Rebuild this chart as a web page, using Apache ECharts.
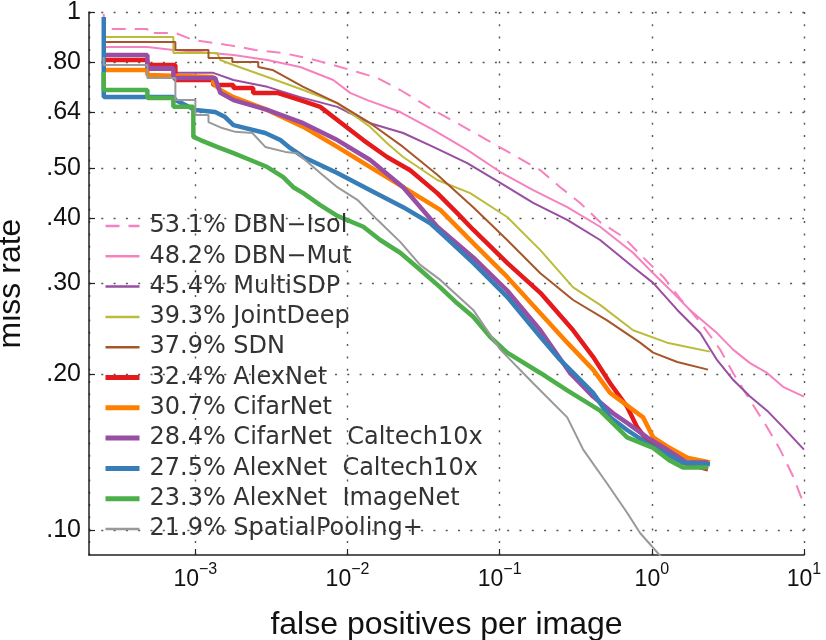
<!DOCTYPE html>
<html>
<head>
<meta charset="utf-8">
<script src="https://cdn.jsdelivr.net/npm/echarts@6/dist/echarts.min.js"></script>
<style>
html,body{margin:0;padding:0;background:#fff;}
#chart{width:826px;height:640px;}
</style>
</head>
<body>
<div id="chart"></div>
<script>
// ---- data (fppi, miss rate) ----
const seriesNames = [
  '53.1% DBN\u2212Isol', '48.2% DBN\u2212Mut', '45.4% MultiSDP', '39.3% JointDeep', '37.9% SDN',
  '32.4% AlexNet', '30.7% CifarNet', '28.4% CifarNet  Caltech10x', '27.5% AlexNet  Caltech10x',
  '23.3% AlexNet  ImageNet', '21.9% SpatialPooling+'
];

const dbnIsol = [[0.00025,0.991],[0.00025,0.927],[0.000484,0.927],[0.000484,0.911],[0.000739,0.911],[0.00097,0.883],[0.00162,0.864],[0.00248,0.845],[0.00378,0.833],[0.00544,0.815],[0.00806,0.790],[0.0116,0.766],[0.0157,0.746],[0.0222,0.707],[0.0366,0.647],[0.0526,0.610],[0.0828,0.566],[0.130,0.525],[0.185,0.495],[0.250,0.459],[0.338,0.428],[0.457,0.393],[0.648,0.368],[0.876,0.336],[1.19,0.308],[1.53,0.280],[2.08,0.252],[2.81,0.223],[3.42,0.201],[4.42,0.178],[5.72,0.158],[6.96,0.143],[8.47,0.127],[10,0.112]];

const dbnMut = [[0.00025,0.856],[0.000484,0.856],[0.000717,0.845],[0.00108,0.837],[0.00178,0.826],[0.00297,0.808],[0.00489,0.783],[0.00806,0.739],[0.0104,0.698],[0.0135,0.676],[0.0222,0.641],[0.0366,0.592],[0.0612,0.542],[0.101,0.491],[0.166,0.453],[0.278,0.420],[0.457,0.385],[0.753,0.343],[1.02,0.313],[1.38,0.287],[1.78,0.266],[2.68,0.240],[3.42,0.223],[4.42,0.210],[5.72,0.201],[7.28,0.189],[10,0.181]];

const multiSDP = [[0.00025,0.808],[0.000484,0.808],[0.000484,0.773],[0.000717,0.773],[0.000717,0.763],[0.00131,0.763],[0.00178,0.739],[0.00297,0.717],[0.00489,0.685],[0.00857,0.656],[0.0141,0.610],[0.0232,0.584],[0.0366,0.549],[0.0612,0.511],[0.101,0.468],[0.166,0.428],[0.278,0.397],[0.457,0.363],[0.753,0.322],[1.02,0.300],[1.47,0.266],[2.08,0.240],[2.68,0.213],[3.42,0.195],[4.42,0.181],[5.72,0.170],[7.28,0.158],[10,0.143]];

const jointDeep = [[0.00025,0.895],[0.000717,0.895],[0.000717,0.833],[0.00139,0.833],[0.00146,0.808],[0.00178,0.790],[0.00297,0.749],[0.00512,0.707],[0.00857,0.667],[0.0141,0.600],[0.0182,0.558],[0.0232,0.525],[0.0389,0.474],[0.064,0.447],[0.112,0.402],[0.185,0.347],[0.304,0.294],[0.457,0.272],[0.753,0.243],[1.26,0.230],[1.78,0.225],[2.41,0.221]];

const sdn = [[0.00025,0.875],[0.000739,0.875],[0.000739,0.845],[0.00122,0.845],[0.00122,0.815],[0.00175,0.815],[0.00175,0.801],[0.00259,0.801],[0.00259,0.783],[0.00321,0.773],[0.00512,0.717],[0.00857,0.667],[0.0141,0.610],[0.0232,0.549],[0.0389,0.485],[0.067,0.420],[0.112,0.363],[0.185,0.313],[0.304,0.278],[0.508,0.254],[0.837,0.230],[1.02,0.220],[1.47,0.211],[2.34,0.204]];

const alexNet = [[0.00025,0.808],[0.000484,0.808],[0.000484,0.790],[0.000739,0.790],[0.000739,0.739],[0.00131,0.739],[0.00131,0.723],[0.00178,0.723],[0.00178,0.713],[0.0024,0.713],[0.0024,0.698],[0.00346,0.698],[0.00489,0.676],[0.00662,0.656],[0.00857,0.619],[0.0127,0.566],[0.0182,0.525],[0.0258,0.495],[0.0389,0.447],[0.0526,0.409],[0.067,0.380],[0.112,0.328],[0.185,0.287],[0.304,0.243],[0.411,0.216],[0.532,0.192],[0.688,0.173],[0.80,0.158],[0.931,0.149],[1.13,0.143],[1.60,0.135],[2.34,0.131]];

const cifarNet = [[0.00025,0.773],[0.000484,0.773],[0.000484,0.756],[0.00131,0.749],[0.00131,0.729],[0.00146,0.707],[0.00178,0.685],[0.00297,0.647],[0.00512,0.600],[0.00857,0.549],[0.0141,0.502],[0.0232,0.459],[0.0407,0.415],[0.067,0.358],[0.112,0.308],[0.185,0.262],[0.278,0.230],[0.411,0.204],[0.532,0.184],[0.688,0.174],[0.876,0.165],[1.02,0.151],[1.26,0.145],[1.70,0.138],[2.41,0.135]];

const cifarNetCaltech = [[0.00025,0.826],[0.000484,0.826],[0.000484,0.780],[0.000717,0.780],[0.000717,0.746],[0.00135,0.746],[0.00146,0.698],[0.00178,0.676],[0.00297,0.647],[0.00512,0.610],[0.00857,0.566],[0.0141,0.518],[0.0232,0.459],[0.0389,0.385],[0.067,0.336],[0.112,0.290],[0.185,0.243],[0.290,0.201],[0.411,0.181],[0.557,0.168],[0.688,0.161],[0.931,0.151],[1.26,0.143],[1.70,0.135],[2.34,0.135]];

const alexNetCaltech = [[0.00025,0.978],[0.00025,0.685],[0.000717,0.685],[0.000739,0.676],[0.001,0.647],[0.00135,0.641],[0.00157,0.627],[0.00178,0.605],[0.00288,0.584],[0.00362,0.566],[0.00421,0.546],[0.00512,0.525],[0.00857,0.489],[0.0141,0.453],[0.0232,0.420],[0.035,0.391],[0.0426,0.371],[0.067,0.328],[0.112,0.282],[0.185,0.236],[0.250,0.213],[0.411,0.184],[0.532,0.165],[0.688,0.156],[0.931,0.147],[1.26,0.140],[1.60,0.135],[2.41,0.134]];

const alexNetImageNet = [[0.00025,0.766],[0.00025,0.707],[0.000484,0.707],[0.000484,0.682],[0.000717,0.682],[0.000717,0.656],[0.00097,0.656],[0.00097,0.574],[0.00108,0.566],[0.00139,0.549],[0.00178,0.534],[0.0023,0.518],[0.00297,0.502],[0.00378,0.480],[0.0044,0.459],[0.00512,0.447],[0.00662,0.424],[0.00857,0.404],[0.0127,0.385],[0.0164,0.363],[0.0222,0.343],[0.030,0.318],[0.0407,0.294],[0.0526,0.274],[0.067,0.258],[0.0866,0.236],[0.112,0.220],[0.185,0.201],[0.278,0.186],[0.457,0.170],[0.688,0.151],[1.02,0.144],[1.32,0.136],[1.60,0.132],[2.34,0.132]];

const spatialPooling = [[0.00025,0.819],[0.00025,0.790],[0.000484,0.790],[0.000484,0.746],[0.000739,0.746],[0.000739,0.676],[0.001,0.676],[0.001,0.633],[0.00122,0.633],[0.00122,0.613],[0.0015,0.597],[0.00183,0.587],[0.00237,0.584],[0.00288,0.549],[0.0039,0.537],[0.00468,0.534],[0.00662,0.489],[0.00857,0.459],[0.0116,0.434],[0.0157,0.397],[0.0222,0.360],[0.030,0.325],[0.0407,0.304],[0.067,0.266],[0.101,0.223],[0.166,0.192],[0.278,0.165],[0.354,0.143],[0.508,0.123],[0.688,0.108],[0.837,0.0987],[1.17,0.0883]];

const yTickValues = [0.1, 0.2, 0.3, 0.4, 0.5, 0.64, 0.8, 1];
const yTickLabels = ['.10', '.20', '.30', '.40', '.50', '.64', '.80', '1'];

// ---- styles ----
const seriesData = [dbnIsol, dbnMut, multiSDP, jointDeep, sdn, alexNet, cifarNet, cifarNetCaltech, alexNetCaltech, alexNetImageNet, spatialPooling];
const seriesColors = ['#f781bf', '#f781bf', '#984ea3', '#bcbc3c', '#a65628', '#e41a1c', '#ff7f00', '#984ea3', '#377eb8', '#4daf4a', '#999999'];
const seriesWidths = [2, 2, 2, 2, 2, 4.5, 4.5, 4.5, 4.5, 4.5, 2];
const seriesDash = [[14, 9], 'solid', 'solid', 'solid', 'solid', 'solid', 'solid', 'solid', 'solid', 'solid', 'solid'];

const FONT = '"Liberation Sans", Arial, Helvetica, sans-serif';
const LEGEND_FONT = '"DejaVu Sans", "Liberation Sans", sans-serif';

const chart = echarts.init(document.getElementById('chart'), null, {renderer: 'canvas'});

const series = seriesNames.map((name, i) => ({
  name: name,
  type: 'line',
  data: seriesData[i],
  symbol: 'none',
  showSymbol: false,
  clip: true,
  animation: false,
  lineStyle: {color: seriesColors[i], width: seriesWidths[i], type: seriesDash[i]},
  itemStyle: {color: seriesColors[i]},
  emphasis: {disabled: true}
}));

const legendData = seriesNames.map((name, i) => ({
  name: name,
  lineStyle: {color: seriesColors[i], width: seriesWidths[i] + 0.5, type: seriesDash[i]},
  itemStyle: {opacity: 0, borderWidth: 0}
}));

const gridDots = {type: [2, 10.3], width: 1.4, color: '#555'};

chart.setOption({
  animation: false,
  backgroundColor: '#fff',
  textStyle: {fontFamily: FONT},
  grid: {left: 89, right: 22, top: 12, bottom: 85, containLabel: false, outerBoundsMode: 'none'},
  legend: {
    orient: 'vertical',
    left: 103,
    top: 214,
    itemWidth: 34,
    itemHeight: 14,
    itemGap: 6.3,
    padding: 0,
    selectedMode: false,
    data: legendData,
    itemStyle: {opacity: 0, borderWidth: 0},
    textStyle: {fontFamily: LEGEND_FONT, fontSize: 24, color: '#333', lineHeight: 24, padding: [0, 0, 0, 5]}
  },
  xAxis: {
    type: 'log',
    logBase: 10,
    min: 0.0002,
    max: 10,
    name: 'false positives per image',
    nameLocation: 'middle',
    nameGap: 54,
    nameMoveOverlap: false,
    nameTextStyle: {fontFamily: FONT, fontSize: 32, color: '#111'},
    axisLine: {show: true, onZero: false, lineStyle: {color: '#222', width: 1.5}},
    axisTick: {show: true, inside: true, length: 6, lineStyle: {color: '#222', width: 1.2}},
    axisLabel: {
      showMinLabel: false,
      margin: 13,
      formatter: function (v) {
        const e = Math.round(Math.log10(v));
        return '{b|10}{e|' + (e < 0 ? '\u2212' + (-e) : String(e)) + '}';
      },
      rich: {
        b: {fontFamily: FONT, fontSize: 23, lineHeight: 23, color: '#111', verticalAlign: 'bottom'},
        e: {fontFamily: FONT, fontSize: 16, lineHeight: 16, color: '#111', verticalAlign: 'bottom', padding: [0, 0, 13, 0]}
      }
    },
    splitLine: {show: true, lineStyle: gridDots},
    minorTick: {show: false},
    minorSplitLine: {show: false}
  },
  yAxis: {
    type: 'log',
    logBase: 10,
    min: 0.0895,
    max: 1,
    name: 'miss rate',
    nameLocation: 'middle',
    nameGap: 62,
    nameMoveOverlap: false,
    nameTextStyle: {fontFamily: FONT, fontSize: 32, color: '#111'},
    axisLine: {show: true, onZero: false, lineStyle: {color: '#222', width: 1.5}},
    axisTick: {show: true, inside: true, length: 6, customValues: yTickValues, lineStyle: {color: '#222', width: 1.2}},
    axisLabel: {
      customValues: yTickValues,
      margin: 8,
      fontFamily: FONT,
      fontSize: 25,
      color: '#111',
      formatter: function (v) {
        let best = 0;
        for (let i = 0; i < yTickValues.length; i++) {
          if (Math.abs(yTickValues[i] - v) < Math.abs(yTickValues[best] - v)) best = i;
        }
        return yTickLabels[best];
      }
    },
    splitLine: {show: true, lineStyle: gridDots}
  },
  series: series
});
</script>
</body>
</html>
